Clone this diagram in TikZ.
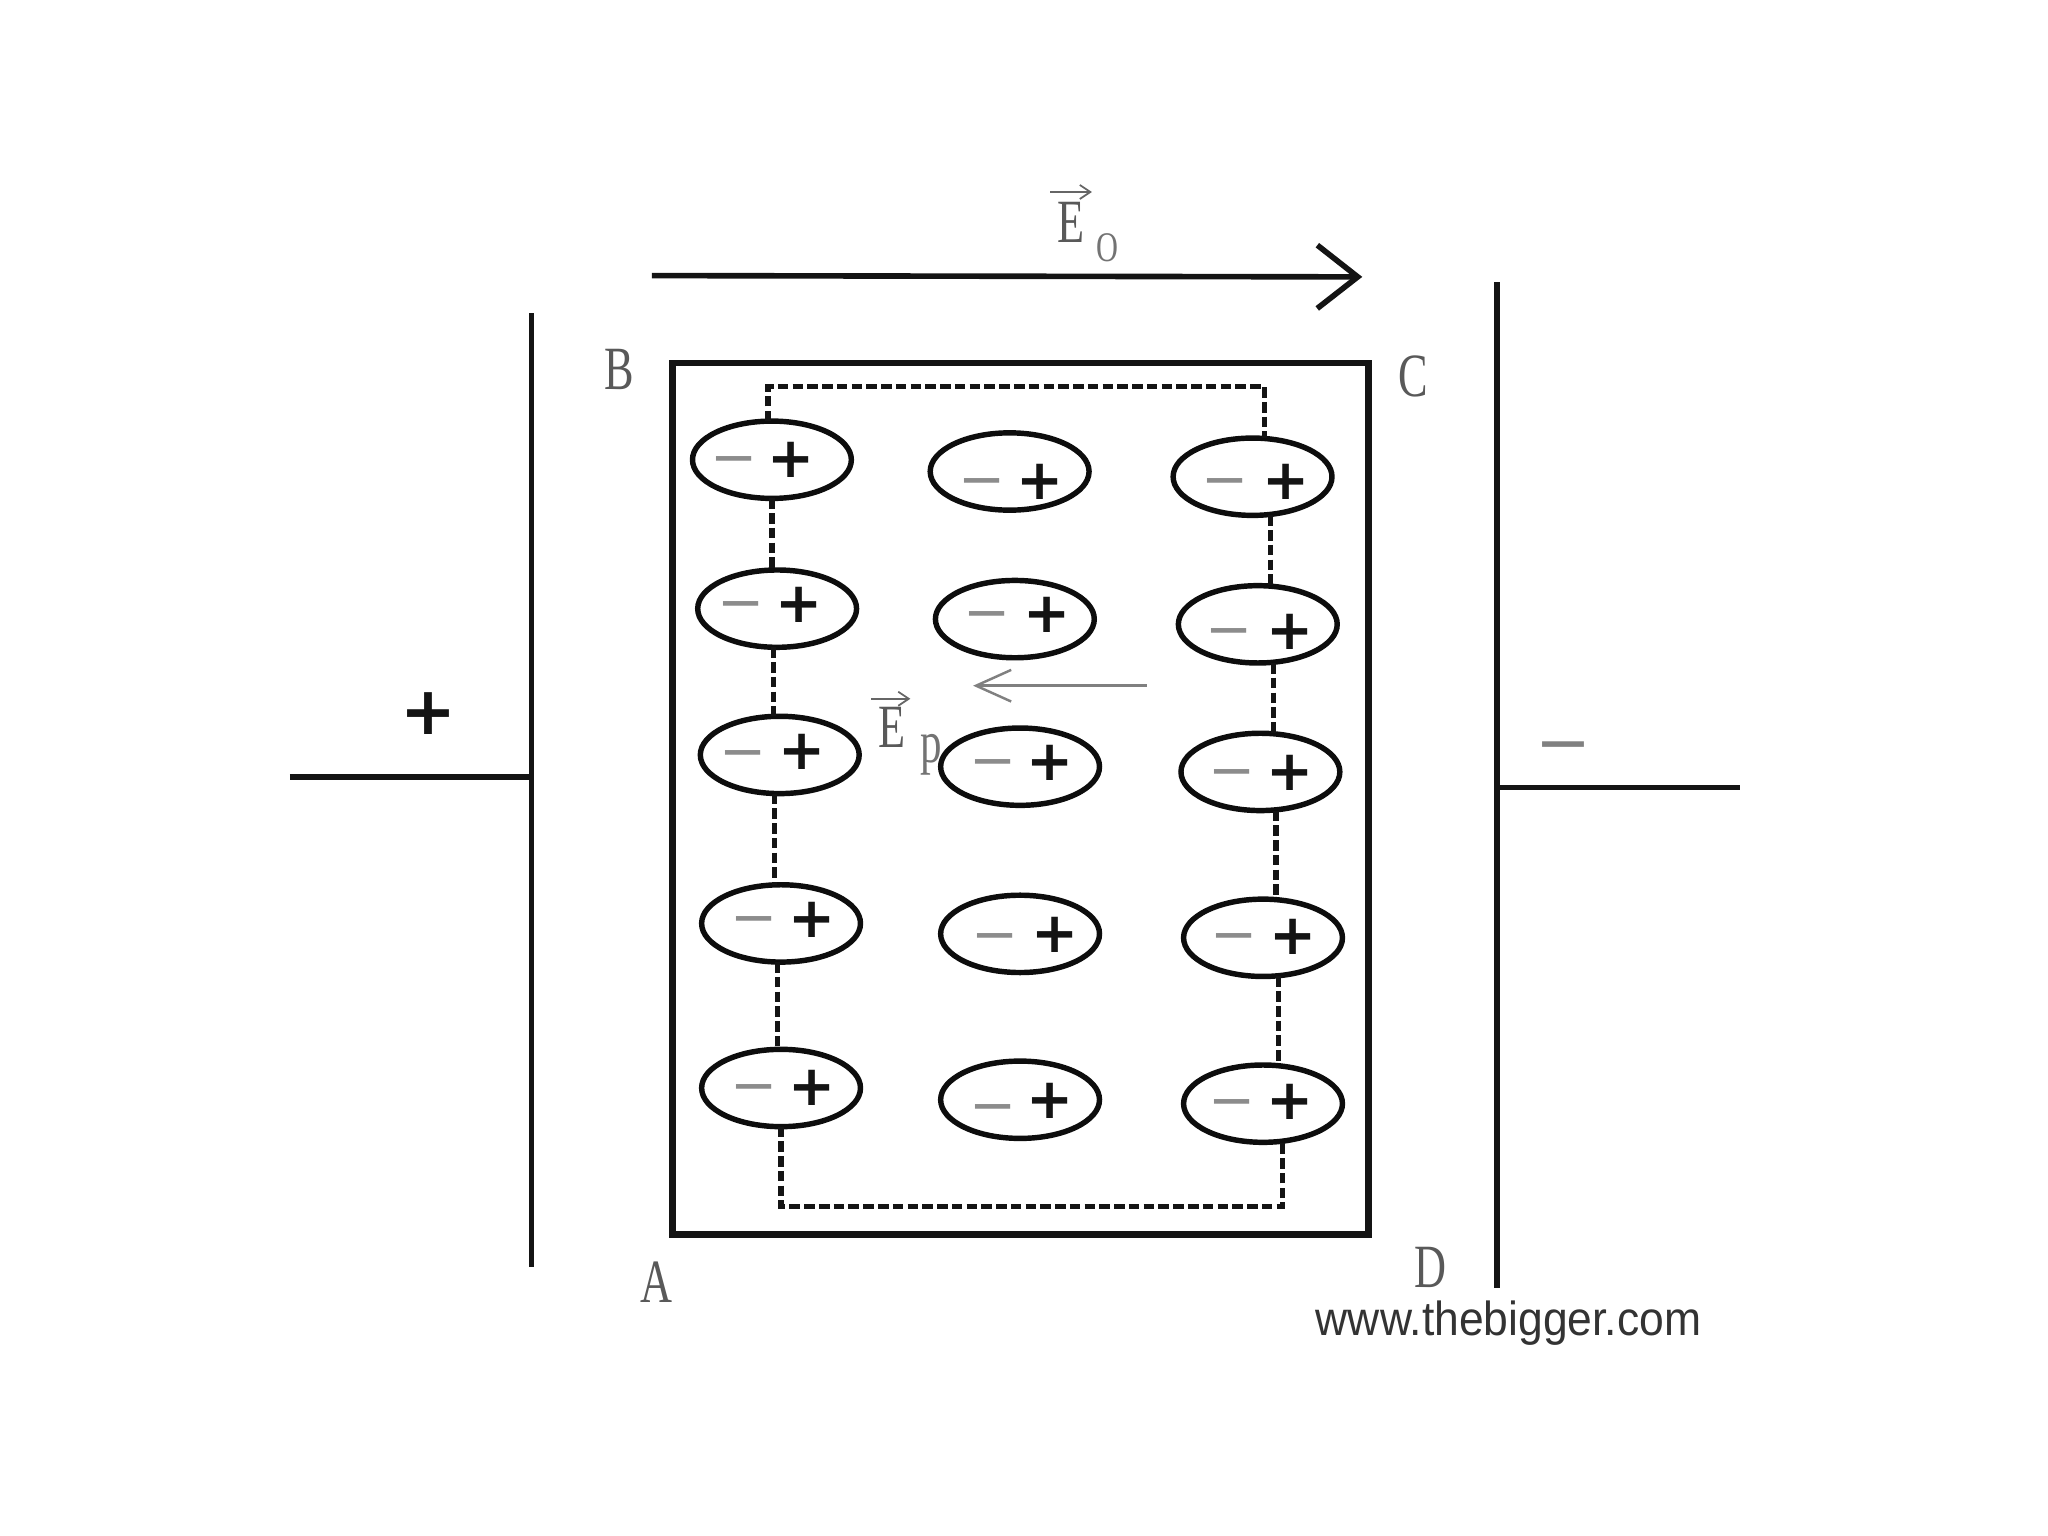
\documentclass[tikz,border=0pt]{standalone}
\usepackage{fontspec}
\setmainfont{Liberation Serif}
\newfontfamily\symfont{DejaVu Sans}
\newfontfamily\symbold{DejaVu Sans Bold}
\newfontfamily\webfont{Liberation Sans}
\usetikzlibrary{shapes.geometric,arrows.meta}
\newcommand{\narrowtxt}[1]{\scalebox{0.72}[1]{#1}}
\tikzset{
  x=0.013061cm,y=-0.013061cm,
  plate/.style={line width=1.55pt,black!92},
  box/.style={draw=black!92,line width=1.8pt,outer sep=0pt},
  molecule/.style={ellipse,draw=black!95,line width=1.55pt,inner sep=0pt,fill=white,outer sep=0pt,
    minimum width=45.2pt,minimum height=22pt},
  plusmark/.style={inner sep=0pt,font=\symbold\fontsize{16}{16}\selectfont,text=black!92},
  minusmark/.style={inner sep=0pt,font=\symfont\fontsize{16}{16}\selectfont,text=black!45,yshift=-1.9pt},
  loopdash/.style={line width=1.5pt,black!92,dash pattern=on 3pt off 1.2pt},
  field/.style={line width=1.6pt,black!92,-{Straight Barb[length=11.5pt,width=18pt,line width=1.6pt]}},
  backfield/.style={line width=.7pt,black!50,-{Straight Barb[length=10pt,width=9pt,line width=.7pt]}},
  vecarrow/.style={line width=.5pt,black!60,-{Straight Barb[length=3pt,width=4pt,line width=.5pt]}},
  letter/.style={inner sep=0pt,font=\fontsize{17.5}{18}\selectfont,text=black!65},
  sub/.style={inner sep=0pt,font=\fontsize{12}{12}\selectfont,text=black!55},
}
\begin{document}
\begin{tikzpicture}
\useasboundingbox (0,0) rectangle (1568,1176);
% plates and wires
\coordinate (lt) at (407,240); \coordinate (lb) at (407,970); \coordinate (lm) at (407,595); \coordinate (lw) at (222,595);
\coordinate (rt) at (1146,216); \coordinate (rb) at (1146,986); \coordinate (rm) at (1146,603); \coordinate (rw) at (1332,603);
\draw[plate] (lt) -- (lb);
\draw[plate] (lw) -- (lm);
\draw[plate] (rt) -- (rb);
\draw[plate] (rm) -- (rw);
\node[inner sep=0pt,font=\symbold\fontsize{19}{19}\selectfont,text=black!92] (pp) at (328,546) {+};
\node[inner sep=0pt,font=\symfont\fontsize{19}{19}\selectfont,text=black!50] (pm) at (1197,577) {−};
% block
\node[box,inner sep=0pt,minimum width=198pt,minimum height=247.9pt,anchor=north west] (block) at (515,278) {};
% field arrows
\coordinate (fa) at (499,211); \coordinate (fb) at (1043,212);
\draw[field] (fa) -- (fb);
\coordinate (ba) at (878,525); \coordinate (bb) at (745,525);
\draw[backfield] (ba) -- (bb);
% molecules
\foreach \n/\cx/\cy/\mx/\my/\px/\py in {
 a1/591/352/562/352/606/352, a2/595/466/567/463/612/463, a3/597/578/569/577/614/576, a4/598/707/577/704/622/704, a5/598/833/577/833/622/833,
 b1/773/361/752/369/796/369, b2/777/474/756/471/802/471, b3/781/587/760/584/804/584, b4/781/715/762/717/808/716, b5/781/842/760/848/804/843,
 c1/959/365/938/369/985/369, c2/963/478/941/484/988/484, c3/965/591/943/592/988/592, c4/967/718/945/717/990/717, c5/967/845/943/844/988/844}
{
  \node[molecule] (\n) at (\cx,\cy) {};
  \node[minusmark] (\n m) at (\mx,\my) {−};
  \node[plusmark] (\n p) at (\px,\py) {+};
}
% dashed loop
\coordinate (tl) at (588,296); \coordinate (tr) at (968,296);
\coordinate (bl) at (598,924); \coordinate (br) at (982,924);
\draw[loopdash] (a1.north -| tl) -- (tl) -- (tr) -- (tr |- c1.north);
\draw[loopdash] (a1.south) -- (a1.south |- a2.north);
\draw[loopdash] ([xshift=-1.1pt]a2.south) -- ([xshift=-1.1pt]a2.south |- a3.north);
\draw[loopdash] ([xshift=-1.4pt]a3.south) -- ([xshift=-1.4pt]a3.south |- a4.north);
\draw[loopdash] ([xshift=-1.1pt]a4.south) -- ([xshift=-1.1pt]a4.south |- a5.north);
\draw[loopdash] (a5.south) -- (bl) -- (br) -- (br |- c5.south);
\draw[loopdash] ([xshift=5pt]c1.south) -- ([xshift=5pt]c1.south |- c2.north);
\draw[loopdash] ([xshift=4.4pt]c2.south) -- ([xshift=4.4pt]c2.south |- c3.north);
\draw[loopdash] ([xshift=4.4pt]c3.south) -- ([xshift=4.4pt]c3.south |- c4.north);
\draw[loopdash] ([xshift=4.4pt]c4.south) -- ([xshift=4.4pt]c4.south |- c5.north);
% labels
\node[letter] (lB) at (474,283) {\narrowtxt{B}};
\node[letter] (lC) at (1082,288) {\narrowtxt{C}};
\node[letter] (lA) at (503,982) {\narrowtxt{A}};
\node[letter] (lD) at (1095,970) {\narrowtxt{D}};
\node[letter] (e0) at (820,170) {\narrowtxt{E}};
\node[sub] (e0s) at (848,190) {\narrowtxt{O}};
\draw[vecarrow] ([shift={(-16,-23)}]e0.center) -- ([shift={(16,-23)}]e0.center);
\node[letter] (ep) at (683,557) {\narrowtxt{E}};
\node[sub,font=\fontsize{17}{17}\selectfont] (eps) at (713,578) {\narrowtxt{p}};
\draw[vecarrow] ([shift={(-16,-22)}]ep.center) -- ([shift={(14,-22)}]ep.center);
\node[inner sep=0pt,font=\webfont\fontsize{13.6}{14}\selectfont,text=black!80] (web) at (1155,1013) {\scalebox{0.93}[1]{www.thebigger.com}};
\end{tikzpicture}
\end{document}
